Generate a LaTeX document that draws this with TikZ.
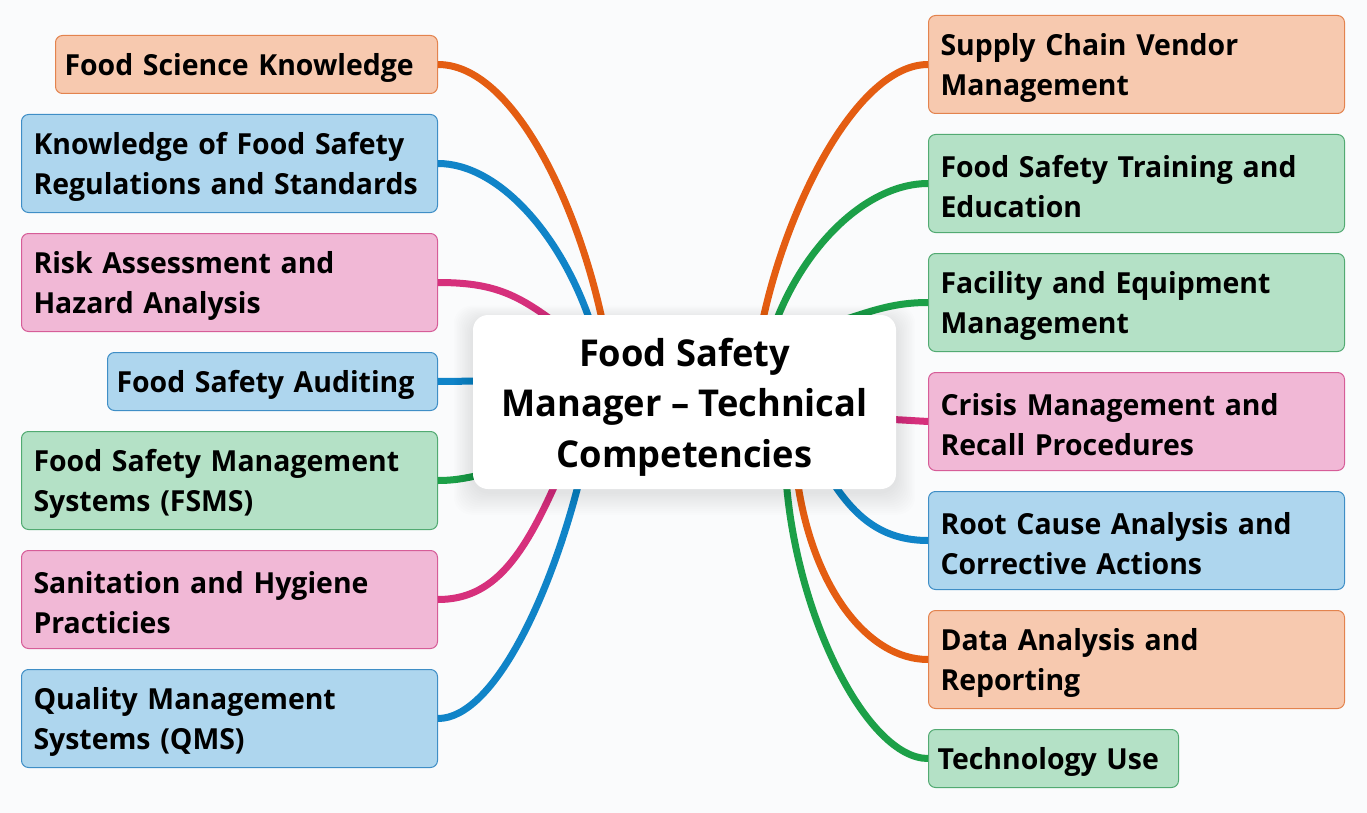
\documentclass[tikz,border=0pt]{standalone}
\usepackage{fontspec}
\setmainfont{Open Sans}[FakeStretch=0.98]
\usetikzlibrary{calc}
\definecolor{bgc}{HTML}{FAFBFC}
\definecolor{orfill}{HTML}{F7C9AF}
\definecolor{ordraw}{HTML}{E3834E}
\definecolor{blfill}{HTML}{AED6EE}
\definecolor{bldraw}{HTML}{3F8EC6}
\definecolor{pkfill}{HTML}{F1B8D6}
\definecolor{pkdraw}{HTML}{D65D98}
\definecolor{grfill}{HTML}{B4E1C6}
\definecolor{grdraw}{HTML}{52AA72}
\definecolor{orline}{HTML}{E45D12}
\definecolor{blline}{HTML}{1084C8}
\definecolor{pkline}{HTML}{D6307C}
\definecolor{grline}{HTML}{1CA048}
\newcommand{\tstrut}{\rule{0pt}{29pt}}
\tikzset{
  topic/.style={draw, rounded corners=7pt, line width=1pt, anchor=north west,
    minimum height=98pt, minimum width=416pt, text width=392pt, inner xsep=12pt,
    inner ysep=3pt, align=left, font=\fontsize{29}{40}\selectfont\bfseries},
  onel/.style={topic, minimum height=58pt, inner xsep=9pt},
  orbox/.style={fill=orfill, draw=ordraw},
  blbox/.style={fill=blfill, draw=bldraw},
  pkbox/.style={fill=pkfill, draw=pkdraw},
  grbox/.style={fill=grfill, draw=grdraw},
  link/.style={line width=7pt},
}
\begin{document}
\begin{tikzpicture}[x=1pt,y=-1pt]
\fill[bgc] (0,0) rectangle (1367,813);
\useasboundingbox (0,0) rectangle (1367,813);
% left topics
\node[onel, orbox, minimum width=382pt, text width=364pt] (fsk) at (55,35) {\tstrut Food Science Knowledge};
\node[topic, blbox] (kfs) at (21,114) {\tstrut Knowledge of Food Safety\\Regulations and Standards};
\node[topic, pkbox] (risk) at (21,233) {\tstrut Risk Assessment and\\Hazard Analysis};
\node[onel, blbox, minimum width=330pt, text width=312pt] (aud) at (107,352) {\tstrut Food Safety Auditing};
\node[topic, grbox] (fsms) at (21,431) {\tstrut Food Safety Management\\Systems (FSMS)};
\node[topic, pkbox] (san) at (21,550) {\tstrut Sanitation and Hygiene\\Practicies};
\node[topic, blbox] (qms) at (21,669) {\tstrut Quality Management\\Systems (QMS)};
% right topics
\node[topic, orbox] (scv) at (928,15) {\tstrut Supply Chain Vendor\\Management};
\node[topic, grbox] (fst) at (928,134) {\tstrut Food Safety Training and\\Education};
\node[topic, grbox] (fac) at (928,253) {\tstrut Facility and Equipment\\Management};
\node[topic, pkbox] (crm) at (928,372) {\tstrut Crisis Management and\\Recall Procedures};
\node[topic, blbox] (rca) at (928,491) {\tstrut Root Cause Analysis and\\Corrective Actions};
\node[topic, orbox] (dar) at (928,610) {\tstrut Data Analysis and\\Reporting};
\node[onel, grbox, minimum width=250pt, text width=232pt] (tech) at (928,729) {\tstrut Technology Use};
% connectors (drawn under the central node)
\draw[link, orline] (fsk.east) .. controls +(75,0) and +(-25,-120) .. (603,324);
\draw[link, blline] (kfs.east) .. controls +(60,0) and +(-30,-90) .. (591,324);
\draw[link, pkline] (risk.east) .. controls +(55,0) and +(-40,-30) .. (557,324);
\draw[link, blline] (aud.east) -- (485,381);
\draw[link, grline] (fsms.east) .. controls +(20,0) and +(-15,3) .. (485,474);
\draw[link, pkline] (san.east) .. controls +(55,0) and +(-35,80) .. (558,478);
\draw[link, blline] (qms.east) .. controls +(55,0) and +(-30,120) .. (580,478);
\draw[link, orline] (scv.west) .. controls +(-70,0) and +(25,-120) .. (762,324);
\draw[link, grline] (fst.west) .. controls +(-60,0) and +(30,-80) .. (775,324);
\draw[link, grline] (fac.west) .. controls +(-40,0) and +(35,-10) .. (830,324);
\draw[link, pkline] (crm.west) -- (885,419);
\draw[link, blline] (rca.west) .. controls +(-45,0) and +(25,40) .. (830,478);
\draw[link, orline] (dar.west) .. controls +(-60,0) and +(15,110) .. (797,478);
\draw[link, grline] (tech.west) .. controls +(-60,0) and +(10,140) .. (786,478);
% soft shadow of the central topic
\foreach \i in {1,...,12}
  \fill[black, opacity=0.008, rounded corners=18pt]
    (473-1.6*\i, 320-1.2*\i) rectangle (896+1.6*\i, 492+1.9*\i);
% central topic
\node[fill=white, rounded corners=15pt, minimum width=423pt, minimum height=174pt]
  (c) at (684.5,402) {};
\node[align=center, font=\fontsize{37}{50.5}\selectfont\bfseries]
  (ct) at ($(c.center)+(0,5)$) {Food Safety\\Manager -- Technical\\Competencies};
\end{tikzpicture}
\end{document}
